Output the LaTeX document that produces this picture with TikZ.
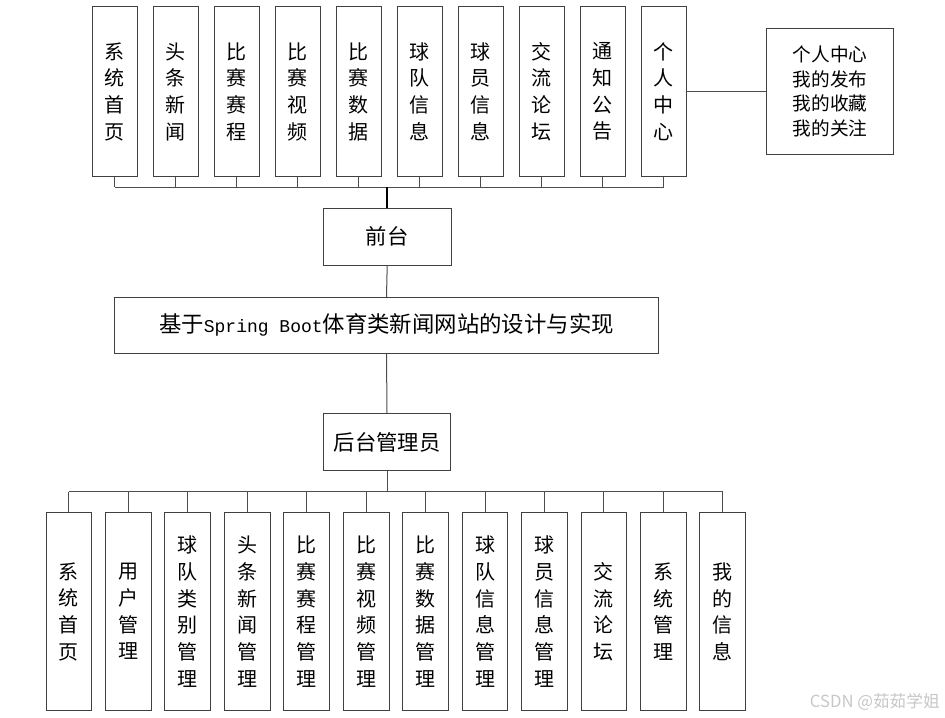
\documentclass[tikz,border=0pt]{standalone}
\usepackage{fontspec}
\setmainfont{Noto Sans CJK SC}
\newfontfamily\monofnt{Liberation Mono}
\newfontfamily\cjkfnt{Noto Sans CJK SC}
\begin{document}
\begin{tikzpicture}[x=0.75pt,y=-0.75pt,
  box/.style={draw=black!75,line width=0.75pt,inner sep=0pt,align=center,fill=white},
  vbox/.style={box,font=\fontsize{15pt}{20pt}\selectfont},
  hbox/.style={box,font=\fontsize{16pt}{20pt}\selectfont},
  conn/.style={draw=black!70,line width=0.75pt},
  thickconn/.style={draw=black,line width=1.6pt}]
\useasboundingbox (0,0) rectangle (945,717);
% top level boxes
\foreach \i/\t in {1/{系\\统\\首\\页},2/{头\\条\\新\\闻},3/{比\\赛\\赛\\程},4/{比\\赛\\视\\频},5/{比\\赛\\数\\据},6/{球\\队\\信\\息},7/{球\\员\\信\\息},8/{交\\流\\论\\坛},9/{通\\知\\公\\告},10/{个\\人\\中\\心}}
  \node[vbox,minimum width=33.75pt,minimum height=127.5pt] (t\i) at ({114.5+61*(\i-1)},91.5) {\t};
\node[box,minimum width=95.5pt,minimum height=94.2pt,font=\fontsize{14pt}{18.3pt}\selectfont] (pc) at (830.3,91.5) {个人中心\\我的发布\\我的收藏\\我的关注};
\node[hbox,minimum width=95.8pt,minimum height=42.5pt] (qt) at (387.2,236.7) {前台};
\node[box,minimum width=407.5pt,minimum height=42pt,font=\fontsize{16.8pt}{20pt}\selectfont] (title) at (386.5,325.3) {基于{\monofnt\fontsize{13.5pt}{20pt}\selectfont Spring Boot}体育类新闻网站的设计与实现};
\node[hbox,minimum width=95.6pt,minimum height=42.4pt] (ht) at (387,442) {后台管理员};
% bottom boxes
\foreach \i/\t in {1/{系\\统\\首\\页},2/{用\\户\\管\\理},3/{球\\队\\类\\别\\管\\理},4/{头\\条\\新\\闻\\管\\理},5/{比\\赛\\赛\\程\\管\\理},6/{比\\赛\\视\\频\\管\\理},7/{比\\赛\\数\\据\\管\\理},8/{球\\队\\信\\息\\管\\理},9/{球\\员\\信\\息\\管\\理},10/{交\\流\\论\\坛},11/{系\\统\\管\\理},12/{我\\的\\信\\息}}
  \node[vbox,minimum width=34.3pt,minimum height=148.5pt] (b\i) at ({68.9+59.45*(\i-1)},611.7) {\t};
% top connectors
\coordinate (tbus) at (387.2,187);
\foreach \i in {1,...,10}
  \draw[conn] (t\i.south) -- (t\i.south |- tbus);
\draw[conn] (t1.south |- tbus) -- (t10.south |- tbus);
\draw[thickconn] (tbus) -- (qt.north);
\draw[conn] (t10.east |- pc.west) -- (pc.west);
\draw[conn] (qt.south) -- (title.north);
\draw[conn] (title.south) -- (ht.north);
% bottom connectors
\coordinate (bbus) at (387,491.7);
\draw[conn] (ht.south) -- (bbus);
\draw[conn] (b1.north |- bbus) -- (b12.north |- bbus);
\foreach \i in {1,...,12}
  \draw[conn] (b\i.north |- bbus) -- (b\i.north);
% watermark
\node[text=black!22,font=\fontsize{12.5pt}{14pt}\selectfont,anchor=east,inner sep=0pt] (wm) at (940,701.7) {CSDN @茹茹学姐};
\end{tikzpicture}
\end{document}
